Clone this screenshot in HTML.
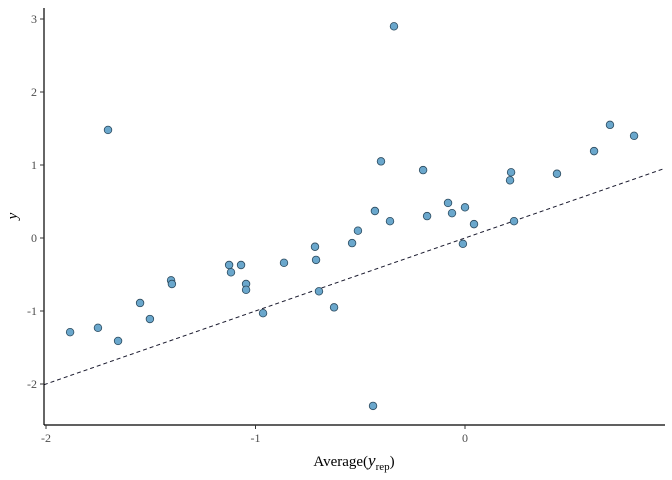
<!DOCTYPE html>
<html><head><meta charset="utf-8"><style>
html,body{margin:0;padding:0;background:#fff;}
svg{display:block;font-family:"Liberation Serif",serif;}
</style></head><body>
<svg id="chart" width="672" height="480"></svg>
<script>
const xVals=[-1.885,-1.752,-1.704,-1.656,-1.551,-1.504,-1.403,-1.399,-1.126,-1.117,-1.069,-1.045,-1.045,-0.964,-0.864,-0.716,-0.711,-0.697,-0.625,-0.539,-0.511,-0.439,-0.430,-0.401,-0.358,-0.339,-0.200,-0.181,-0.081,-0.062,-0.010,0.000,0.043,0.215,0.220,0.234,0.439,0.616,0.692,0.807];
const yVals=[-1.29,-1.23,1.48,-1.41,-0.89,-1.11,-0.58,-0.63,-0.37,-0.47,-0.37,-0.63,-0.71,-1.03,-0.34,-0.12,-0.30,-0.73,-0.95,-0.07,0.10,-2.30,0.37,1.05,0.23,2.90,0.93,0.30,0.48,0.34,-0.08,0.42,0.19,0.79,0.90,0.23,0.88,1.19,1.55,1.40];
const xTicks=[-2,-1,0];
const yTicks=[-2,-1,0,1,2,3];
const xTickLabels=["-2","-1","0"];
const yTickLabels=["-2","-1","0","1","2","3"];
const xMin=-2.01, xMax=0.955, yMin=-2.55, yMax=3.15;
const L=44,R=665,T=8,B=425;
const sx=v=>46+(v+2)*209.5;
const sy=v=>238-v*73;
const svg=document.getElementById('chart');
const NS='http://www.w3.org/2000/svg';
function mk(tag,attrs,parent){const e=document.createElementNS(NS,tag);for(const k in attrs)e.setAttribute(k,attrs[k]);(parent||svg).appendChild(e);return e;}
const ref=mk('line',{x1:sx(xMin),y1:sy(xMin),x2:sx(xMax),y2:sy(xMax),stroke:'#1a1a2e','stroke-width':1,'stroke-dasharray':'4,3'});


for(let i=0;i<xVals.length;i++){
  const c=mk('circle',{cx:sx(xVals[i]),cy:sy(yVals[i]),r:3.8,fill:'#6aa7cc',stroke:'#2c4a5e','stroke-width':0.8});
  
  
}
const ax=mk('line',{x1:L,y1:B,x2:R,y2:B,stroke:'#000','stroke-width':1.2});


const ay=mk('line',{x1:L,y1:T,x2:L,y2:B,stroke:'#000','stroke-width':1.2});


xTicks.forEach((t,i)=>{
  const x=sx(t);
  const tk=mk('line',{x1:x,y1:B,x2:x,y2:B+4,stroke:'#333'});
  
  
  const tx=mk('text',{x:x,y:B+17,'text-anchor':'middle','font-size':12,fill:'#4d4d4d'});
  tx.textContent=xTickLabels[i];
  
  
});
yTicks.forEach((t,i)=>{
  const y=sy(t);
  const tk=mk('line',{x1:L-4,y1:y,x2:L,y2:y,stroke:'#333'});
  
  
  const tx=mk('text',{x:L-7,y:y+4,'text-anchor':'end','font-size':12,fill:'#4d4d4d'});
  tx.textContent=yTickLabels[i];
  
  
});
const xt=mk('text',{x:354,y:466,'text-anchor':'middle','font-size':15,fill:'#000'});
xt.innerHTML='Average(<tspan font-style="italic" font-size="17">y</tspan><tspan font-size="11" dy="4">rep</tspan><tspan dy="-4">)</tspan>';


const yt=mk('text',{x:17,y:216,'text-anchor':'middle','font-size':15,'font-style':'italic',fill:'#000',transform:'rotate(-90 17 216)'});
yt.textContent='y';


</script>
</body></html>
